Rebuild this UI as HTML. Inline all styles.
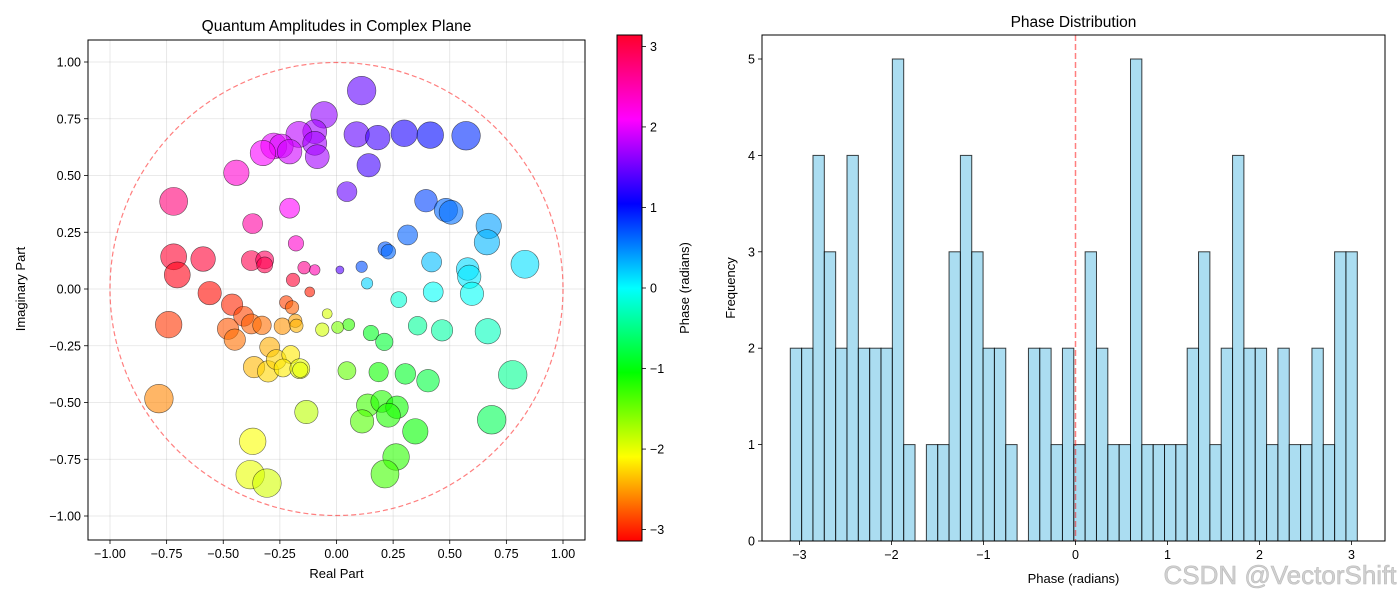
<!DOCTYPE html>
<html><head><meta charset="utf-8"><style>
body{margin:0;background:#fff;}
svg{display:block;font-family:"Liberation Sans","DejaVu Sans",sans-serif;}
</style></head><body>
<svg id="fig" width="1400" height="600" viewBox="0 0 1400 600" xmlns="http://www.w3.org/2000/svg">
<defs>
<linearGradient id="hsvgrad" x1="0" y1="1" x2="0" y2="0">
<stop offset="0" stop-color="hsl(0,100%,50%)"/><stop offset="0.1667" stop-color="hsl(60,100%,50%)"/>
<stop offset="0.3333" stop-color="hsl(120,100%,50%)"/><stop offset="0.5" stop-color="hsl(180,100%,50%)"/>
<stop offset="0.6667" stop-color="hsl(240,100%,50%)"/><stop offset="0.8333" stop-color="hsl(300,100%,50%)"/>
<stop offset="1" stop-color="hsl(350,100%,50%)"/>
</linearGradient>
<clipPath id="clipL"><rect x="88" y="40" width="497" height="500"/></clipPath>
</defs>
<g id="left"></g>
<g id="cbar"></g>
<g id="right"></g>
<text x="1280" y="584" text-anchor="middle" font-size="26" fill="#d0d0d0" stroke="#bbb" stroke-width="0.6">CSDN @VectorShift</text>
</svg>
<script>
// ---- scatter data (pixel-read estimates converted to data units) ----
const pxX = [324,314.7,299,314.7,317.3,273.7,281.3,289.7,263,236.3,173.7,289.7,252.7,296,173.7,203,251.3,264.7,264.7,177.3,304,314.7,293,
361.7,356.7,377.7,404.3,430.3,466,368.7,347,426,446,451,488.7,487,407.7,385.3,388.3,431.7,467.7,469.3,525,361.7,340,367,433.3,472,
398.7,417.7,442,487.7,371,384.3,348.7,337.7,347,378.7,405.3,428,512.7,367.7,381.7,397,388.3,362,415.3,491.7,396,385,
209.7,232,168.7,243.7,251.3,262,228,234.7,286.3,292,282.3,295.3,296.3,309.7,327.3,322.3,269.7,254,268,276.3,290.7,283,299.7,300.3,159,306.3,252.7,250.3,267];
const pxY = [115,131.7,134.3,143.3,156.7,146,146,151.7,153,172.7,201.3,208.3,223.7,243.3,256.7,259,260.7,260,265,275,267.7,270,280,
90.7,134.3,137.7,133.3,135,135.7,165.3,191.7,200.7,210,212.3,226,242.3,235,249,251.7,262,269,276.7,264.3,266.7,270,283.3,292,293.7,
299.7,325.7,330.3,331.3,333,342,324.7,327.3,370.7,372,374,380.7,374.7,405.3,401.3,407.3,415.3,421.3,431.3,419.7,457,474,
293,304.7,324.7,316.3,324,325.3,328.7,339.7,302.3,307.3,326.3,320.7,325.7,292,313.7,329.7,347,367,371.3,359.7,354.7,368,368.7,369.7,398.7,412,441.3,474.7,483];
const re = pxX.map(p => +((p - 336.5) / 226.5).toFixed(3));
const im = pxY.map(p => +((289 - p) / 227).toFixed(3));
const markerSize = [13.3,12,13,12,12,13,12,12.3,12.7,12.7,14,10,10,7.7,13,12.3,10,9,8,13,6.3,5.3,6.7,
14.3,12.7,12.3,13.3,13.3,14.3,11.7,10,11.3,11.7,12,12.7,12.7,10,7.3,7.3,10,11.3,11.7,14,5.7,4,5.7,10,11.7,
8,9.3,10.7,12.7,7.7,8.7,6,6,9,9.7,10.3,11.3,14.3,11.3,11,11.3,12,11.7,12.7,14.3,13.3,14,
11.7,10.7,13.3,10,10,9.3,10.7,10.7,6.7,6.7,8.3,6.7,6.7,5,5,6.7,10,10.7,10.7,10,9,9,10,7.7,14.3,11.7,13.3,14.3,14.3];
// ---- histogram data ----
const histCounts = [2,2,4,3,2,4,2,2,2,5,1,0,1,1,3,4,3,2,2,1,0,2,2,1,2,1,3,2,1,1,5,1,1,1,1,2,3,1,2,4,2,2,1,2,1,1,2,1,3,3];
const histMin = -3.100, histMax = 3.063;
const scatterTicks = [-1.00,-0.75,-0.50,-0.25,0.00,0.25,0.50,0.75,1.00];
const cbarTicks = [-3,-2,-1,0,1,2,3];
const histXTicks = [-3,-2,-1,0,1,2,3];
const histYTicks = [0,1,2,3,4,5];

const NS = "http://www.w3.org/2000/svg";
function mk(parent, tag, attrs, text){
  const e = document.createElementNS(NS, tag);
  for (const k in attrs) e.setAttribute(k, attrs[k]);
  if (text !== undefined) e.textContent = text;
  parent.appendChild(e);
  return e;
}
const fmt = v => (v < 0 ? "\u2212" : "") + Math.abs(v).toFixed(2);
const fmtI = v => (v < 0 ? "\u2212" : "") + Math.abs(v);

// ===== Left scatter =====
const L = document.getElementById('left');
const lx = v => 336.5 + v * 226.5;
const ly = v => 289 - v * 227;
mk(L,'rect',{x:88,y:40,width:497,height:500,fill:'#fff'});
scatterTicks.forEach(t => {
  let g = mk(L,'line',{x1:lx(t),x2:lx(t),y1:40,y2:540,stroke:'#b0b0b0','stroke-opacity':0.35,'stroke-width':0.8});
  
  
  g = mk(L,'line',{x1:88,x2:585,y1:ly(t),y2:ly(t),stroke:'#b0b0b0','stroke-opacity':0.35,'stroke-width':0.8});
  
  
  mk(L,'line',{x1:lx(t),x2:lx(t),y1:540,y2:544,stroke:'#000','stroke-width':0.8});
  let tx = mk(L,'text',{x:lx(t),y:558,'text-anchor':'middle','font-size':12.5,fill:'#000'},fmt(t));
  
  
  mk(L,'line',{x1:84,x2:88,y1:ly(t),y2:ly(t),stroke:'#000','stroke-width':0.8});
  tx = mk(L,'text',{x:81,y:ly(t)+4.5,'text-anchor':'end','font-size':12.5,fill:'#000'},fmt(t));
  
  
});
const pts = mk(L,'g',{'clip-path':'url(#clipL)'});
let circ = mk(pts,'circle',{cx:lx(0),cy:ly(0),r:226.5,fill:'none',stroke:'#ff0000','stroke-opacity':0.5,'stroke-width':1.2,'stroke-dasharray':'5,3'});


for (let i = 0; i < re.length; i++) {
  const ph = Math.atan2(im[i], re[i]);
  const hue = (ph + Math.PI) / (2 * Math.PI) * 360;
  const c = mk(pts,'circle',{cx:lx(re[i]),cy:ly(im[i]),r:markerSize[i],fill:`hsl(${hue},100%,50%)`,'fill-opacity':0.6,stroke:'#000','stroke-opacity':0.6,'stroke-width':0.6});
  
  
}
mk(L,'rect',{x:88,y:40,width:497,height:500,fill:'none',stroke:'#000','stroke-width':1});
let t1 = mk(L,'text',{x:336.5,y:31,'text-anchor':'middle','font-size':15.5,fill:'#000'},'Quantum Amplitudes in Complex Plane');


t1 = mk(L,'text',{x:336.5,y:578,'text-anchor':'middle','font-size':13,fill:'#000'},'Real Part');


t1 = mk(L,'text',{x:0,y:0,'text-anchor':'middle','font-size':13,fill:'#000',transform:'translate(25,289) rotate(-90)'},'Imaginary Part');



// ===== Colorbar =====
const C = document.getElementById('cbar');
const cy = v => 288 - v / Math.PI * 253;
mk(C,'rect',{x:617,y:35,width:25,height:506,fill:'url(#hsvgrad)',stroke:'#000','stroke-width':1});
cbarTicks.forEach(t => {
  mk(C,'line',{x1:642,x2:646,y1:cy(t),y2:cy(t),stroke:'#000','stroke-width':0.8});
  const tx = mk(C,'text',{x:650,y:cy(t)+4.5,'font-size':12.5,fill:'#000'},fmtI(t));
  
  
});
t1 = mk(C,'text',{x:0,y:0,'text-anchor':'middle','font-size':13,fill:'#000',transform:'translate(689,288) rotate(-90)'},'Phase (radians)');



// ===== Histogram =====
const R = document.getElementById('right');
const hx = v => 1075.5 + v * 92;
const hy = v => 541 - v * 96.4;
const bw = (histMax - histMin) / histCounts.length;
histCounts.forEach((n, i) => {
  if (n <= 0) return;
  const x0 = hx(histMin + i * bw), x1 = hx(histMin + (i + 1) * bw);
  const b = mk(R,'rect',{x:x0,y:hy(n),width:x1-x0,height:hy(0)-hy(n),fill:'#87ceeb','fill-opacity':0.7,stroke:'#000','stroke-opacity':0.75,'stroke-width':1});
  
  
});
let zl = mk(R,'line',{x1:hx(0),x2:hx(0),y1:35,y2:541,stroke:'#ff0000','stroke-opacity':0.5,'stroke-width':1.5,'stroke-dasharray':'6,3'});


mk(R,'rect',{x:762,y:35,width:623,height:506,fill:'none',stroke:'#000','stroke-width':1});
histXTicks.forEach(t => {
  mk(R,'line',{x1:hx(t),x2:hx(t),y1:541,y2:545,stroke:'#000','stroke-width':0.8});
  const tx = mk(R,'text',{x:hx(t),y:559,'text-anchor':'middle','font-size':12.5,fill:'#000'},fmtI(t));
  
  
});
histYTicks.forEach(t => {
  mk(R,'line',{x1:758,x2:762,y1:hy(t),y2:hy(t),stroke:'#000','stroke-width':0.8});
  const tx = mk(R,'text',{x:755,y:hy(t)+4.5,'text-anchor':'end','font-size':12.5,fill:'#000'},String(t));
  
  
});
t1 = mk(R,'text',{x:1073.5,y:27,'text-anchor':'middle','font-size':15.5,fill:'#000'},'Phase Distribution');


t1 = mk(R,'text',{x:1073.5,y:583,'text-anchor':'middle','font-size':13,fill:'#000'},'Phase (radians)');


t1 = mk(R,'text',{x:0,y:0,'text-anchor':'middle','font-size':13,fill:'#000',transform:'translate(735,288) rotate(-90)'},'Frequency');


</script>
</body></html>
